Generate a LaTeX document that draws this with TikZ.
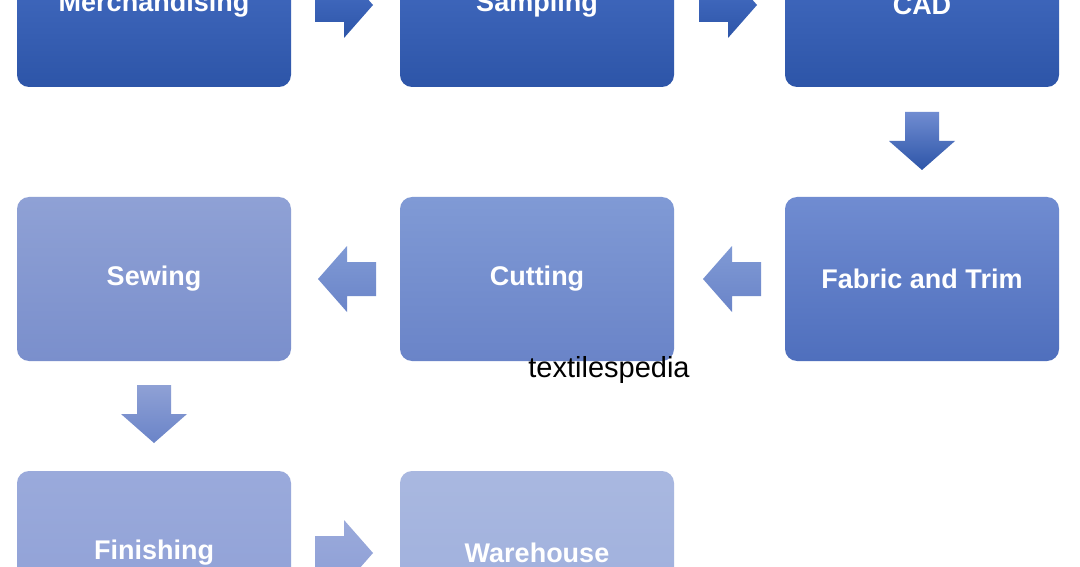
\documentclass[tikz,border=0pt]{standalone}
\usepackage{fontspec}
\setmainfont{Liberation Sans}
\definecolor{aT}{HTML}{4A72C8}\definecolor{aB}{HTML}{2D55A8}
\definecolor{sT}{HTML}{8FA1D5}\definecolor{sB}{HTML}{7A8FCC}
\definecolor{cT}{HTML}{809AD5}\definecolor{cB}{HTML}{6A84C8}
\definecolor{fT}{HTML}{708CD1}\definecolor{fB}{HTML}{4F6FBD}
\definecolor{nT}{HTML}{9AAADB}\definecolor{nB}{HTML}{8E9FD6}
\definecolor{wT}{HTML}{A9B8E0}\definecolor{wB}{HTML}{9DAEDC}
\begin{document}
\begin{tikzpicture}[x=1pt,y=-1pt,
 box/.style={rounded corners=12pt,minimum width=274pt,minimum height=164pt,inner sep=0pt,text=white,font=\fontsize{27}{30}\selectfont\bfseries},
]
\useasboundingbox (0,0) rectangle (1080,567);
\begin{scope}
\clip (0,0) rectangle (1080,567);
\fill[white] (0,0) rectangle (1080,567);
\node[box,top color=aT,bottom color=aB] (m) at (154,5) {Merchandising};
\node[box,top color=aT,bottom color=aB] (s) at (537,5) {Sampling};
\node[box,top color=aT,bottom color=aB] (cad) at (922,5) {CAD};
\node[box,top color=sT,bottom color=sB] (sew) at (154,279) {Sewing};
\node[box,top color=cT,bottom color=cB] (cut) at (537,279) {Cutting};
\node[box,top color=fT,bottom color=fB] (fab) at (922,279) {Fabric and Trim};
\node[box,top color=nT,bottom color=nB] (fin) at (154,553) {Finishing};
\node[box,top color=wT,bottom color=wB] (wh) at (537,553) {Warehouse};
% right arrows
\foreach \cx/\cy/\t/\b in {344/5/aT/aB, 728/5/aT/aB, 344/553/nT/nB}{
 \shade[top color=\t,bottom color=\b] (\cx-29,\cy-17) -- (\cx,\cy-17) -- (\cx,\cy-33) -- (\cx+29,\cy) -- (\cx,\cy+33) -- (\cx,\cy+17) -- (\cx-29,\cy+17) -- cycle;}
% left arrows
\foreach \cx/\cy/\t/\b in {347/279/cT/cB, 732/279/cT/cB}{
 \shade[top color=\t,bottom color=\b] (\cx+29,\cy-17) -- (\cx,\cy-17) -- (\cx,\cy-33) -- (\cx-29,\cy) -- (\cx,\cy+33) -- (\cx,\cy+17) -- (\cx+29,\cy+17) -- cycle;}
% down arrows
\foreach \cx/\cy/\t/\b in {922/141/fT/aB, 154/414/sT/cB}{
 \shade[top color=\t,bottom color=\b] (\cx-17,\cy-29) -- (\cx+17,\cy-29) -- (\cx+17,\cy) -- (\cx+33,\cy) -- (\cx,\cy+29) -- (\cx-33,\cy) -- (\cx-17,\cy) -- cycle;}
\node[font=\fontsize{29}{32}\selectfont] (wm) at (609,370) {textilespedia};
\end{scope}
\end{tikzpicture}
\end{document}
